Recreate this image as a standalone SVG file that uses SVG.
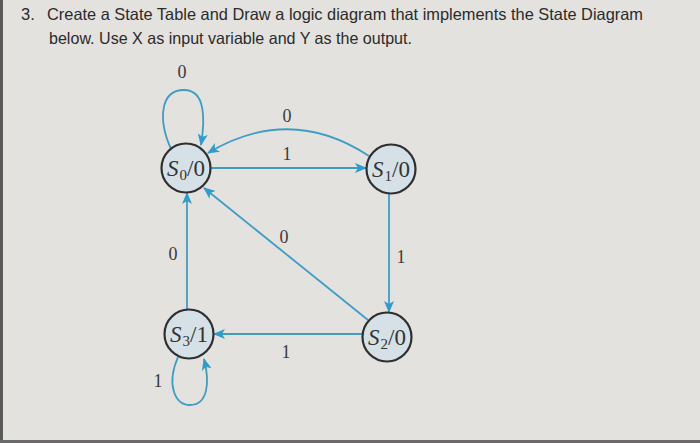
<svg xmlns="http://www.w3.org/2000/svg" width="700" height="443" viewBox="0 0 700 443">
<style>
.hdr{font-family:"Liberation Sans","DejaVu Sans",sans-serif;font-size:16.5px;fill:#2b2b2b}
.lbl{font-family:"Liberation Serif","DejaVu Serif",serif;font-size:18px;fill:#3a3a3a;text-anchor:middle}
.st{font-family:"Liberation Serif","DejaVu Serif",serif;font-size:23px;fill:#333;text-anchor:middle}
.node circle{fill:#d5e1e6;stroke:#2f2f2f;stroke-width:2.2}
.edge{fill:none;stroke:#3f9dc4;stroke-width:1.8;marker-end:url(#arr)}
</style>
<defs>
<marker id="arr" viewBox="0 0 12 10" refX="11" refY="5" markerWidth="12" markerHeight="10" markerUnits="userSpaceOnUse" orient="auto">
<path d="M0,0 L12,5 L0,10 L3,5 Z" fill="#2f9ccb"/>
</marker>
</defs>
<rect x="0" y="0" width="700" height="443" fill="#e3e2df"/>
<rect x="0" y="0" width="3" height="443" fill="#5a5a5a"/>
<rect x="0" y="440" width="700" height="3" fill="#6a6a6a"/>
<g id="title">
<text class="hdr" x="21" y="20">3.</text>
<text class="hdr" x="47" y="20" textLength="596" lengthAdjust="spacingAndGlyphs">Create a State Table and Draw a logic diagram that implements the State Diagram</text>
<text class="hdr" x="49" y="44" textLength="363" lengthAdjust="spacingAndGlyphs">below.  Use X as input variable and Y as the output.</text>
</g>
<g id="connectors">
<path class="edge" d="M 171 149 C 158 120, 160 90, 184 90 C 206 90, 205 120, 201 145"/>
<path class="edge" d="M 211 168 L 366 168"/>
<path class="edge" d="M 369 156 Q 290 104, 208 153"/>
<path class="edge" d="M 389 194 L 389 312"/>
<path class="edge" d="M 363 334 L 214 334"/>
<path class="edge" d="M 368 320 L 204 188"/>
<path class="edge" d="M 187 310 L 187 193"/>
<path class="edge" d="M 178 357 C 166 385, 175 405, 190 405 C 208 405, 210 382, 204 359"/>
<text class="lbl" x="182" y="78">0</text>
<text class="lbl" x="287" y="122">0</text>
<text class="lbl" x="287" y="160">1</text>
<text class="lbl" x="284" y="243">0</text>
<text class="lbl" x="173" y="260">0</text>
<text class="lbl" x="401" y="263">1</text>
<text class="lbl" x="286" y="358">1</text>
<text class="lbl" x="158" y="387">1</text>
</g>
<g id="S0" class="node">
<circle cx="186" cy="168" r="24.5"/>
<text class="st" x="186" y="176"><tspan font-style="italic">S</tspan><tspan font-size="15" dx="1" dy="4">0</tspan><tspan dy="-4">/0</tspan></text>
</g>
<g id="S1" class="node">
<circle cx="391" cy="169" r="24.5"/>
<text class="st" x="391" y="177"><tspan font-style="italic">S</tspan><tspan font-size="15" dx="1" dy="4">1</tspan><tspan dy="-4">/0</tspan></text>
</g>
<g id="S2" class="node">
<circle cx="387" cy="337" r="24.5"/>
<text class="st" x="387" y="345"><tspan font-style="italic">S</tspan><tspan font-size="15" dx="1" dy="4">2</tspan><tspan dy="-4">/0</tspan></text>
</g>
<g id="S3" class="node">
<circle cx="189" cy="334" r="24.5"/>
<text class="st" x="189" y="342"><tspan font-style="italic">S</tspan><tspan font-size="15" dx="1" dy="4">3</tspan><tspan dy="-4">/1</tspan></text>
</g>
</svg>
